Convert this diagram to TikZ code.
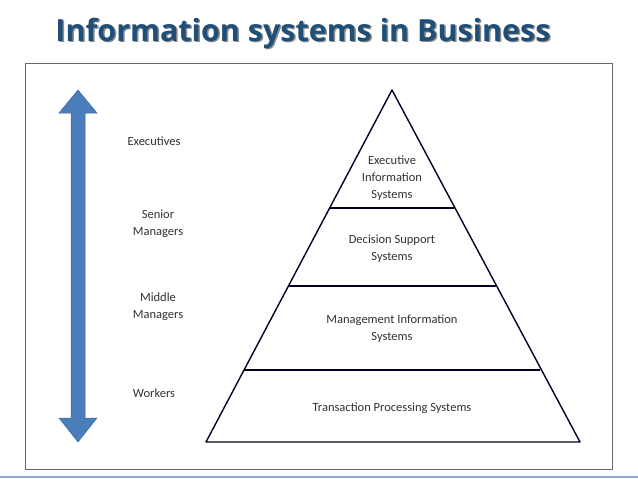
\documentclass[tikz,border=0pt]{standalone}
\usepackage{fontspec}
\setmainfont{Carlito}
\newfontfamily\titlefont{Open Sans}
\definecolor{bottomline}{HTML}{8FA8D0}
\definecolor{arrowfill}{HTML}{4A7EBB}
\definecolor{arrowdraw}{HTML}{3A6AA0}
\definecolor{titleblue}{HTML}{1F4E79}
\begin{document}
\begin{tikzpicture}[x=1pt,y=-1pt,
  lbl/.style={font=\fontsize{12.5}{17}\selectfont, text=black!80, align=center},
  edge/.style={draw=black!85!blue, line width=1.4pt, line join=round}]
\useasboundingbox (0,0) rectangle (638,479);
\fill[white] (0,0) rectangle (638,479);
\node (titleshadow) at (304.5,34.5) {\titlefont\bfseries\fontsize{30.5}{33}\selectfont\textcolor{black!45}{Information systems in Business}};
\node (title) at (303,33) {\titlefont\bfseries\fontsize{30.5}{33}\selectfont\textcolor{titleblue}{Information systems in Business}};
\draw[black!60, line width=0.8pt] (25,63) rectangle (612,469);
\draw[bottomline, line width=1.5pt] (0,477) -- (638,477);
% arrow
\fill[arrowfill, draw=arrowdraw, line width=0.5pt]
  (78,90) -- (97,113) -- (85,113) -- (85,418) -- (97,418) -- (78,442) -- (59,418) -- (71,418) -- (71,113) -- (59,113) -- cycle;
% pyramid
\coordinate (apex) at (392,90);
\coordinate (bl) at (206,442);
\coordinate (br) at (580,442);
\draw[edge] (apex) -- (bl) -- (br) -- cycle;
\draw[edge] (329.6,208) -- (454.4,208);
\draw[edge] (288,286) -- (496,286);
\draw[edge] (244,370) -- (540,370);
\node[lbl] (eis) at (392,178) {Executive\\Information\\Systems};
\node[lbl] (dss) at (392,249) {Decision Support\\Systems};
\node[lbl] (mis) at (392,329) {Management Information\\Systems};
\node[lbl] (tps) at (392,408) {Transaction Processing Systems};
\node[lbl] (ex) at (154,141) {Executives};
\node[lbl] (sm) at (158,224) {Senior\\Managers};
\node[lbl] (mm) at (158,307) {Middle\\Managers};
\node[lbl] (wk) at (154,393) {Workers};
\end{tikzpicture}
\end{document}
